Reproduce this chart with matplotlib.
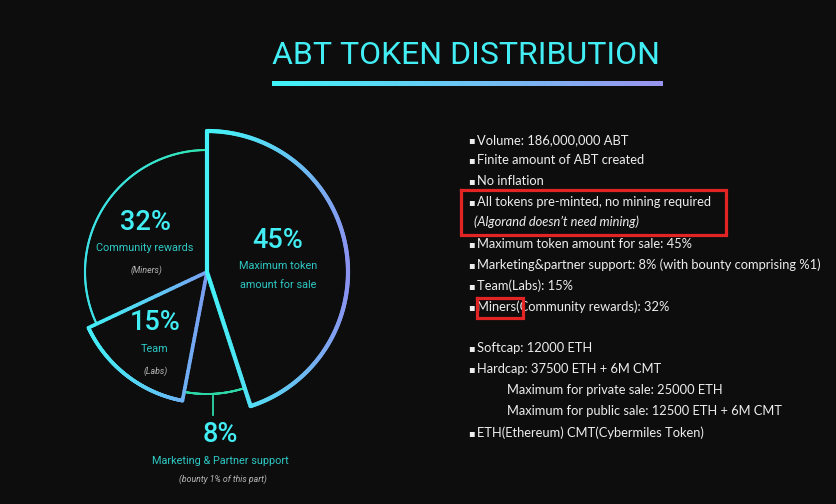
import numpy as np
import matplotlib
matplotlib.use('Agg')
import matplotlib.pyplot as plt
from matplotlib.collections import LineCollection
from matplotlib.colors import to_rgb

# ---------------- data ----------------
title = "ABT TOKEN DISTRIBUTION"
shares = [45, 8, 15, 32]
share_names = [["Maximum token", "amount for sale"],
               ["Marketing & Partner support"],
               ["Team"],
               ["Community rewards"]]
share_notes = ["", "(bounty 1% of this part)", "(Labs)", "(Miners)"]

bullet_lines = [
    "Volume: 186,000,000 ABT",
    "Finite amount of ABT created",
    "No inflation",
    "All tokens pre-minted, no mining required",
    "Maximum token amount for sale: 45%",
    "Marketing&partner support: 8% (with bounty comprising %1)",
    "Team(Labs): 15%",
    "Miners(Community rewards): 32%",
    "Softcap: 12000 ETH",
    "Hardcap: 37500 ETH + 6M CMT",
    "ETH(Ethereum) CMT(Cybermiles Token)",
]
sub_note = "(Algorand doesn\u2019t need mining)"
indented_lines = ["Maximum for private sale: 25000 ETH",
                  "Maximum for public sale: 12500 ETH + 6M CMT"]

# ---------------- style / layout ----------------
W, H = 837, 504
BG = '#0d0d0d'
CYAN = '#42eef4'
TEAL = '#2ec8c4'
radii = [141, 122, 131, 122]
lws = [3.0, 1.4, 2.6, 1.5]
grads = [('#45f0f6', '#8a94f0'), ('#2ed8a8', '#2ed8a8'),
         ('#45ecf6', '#7c9cf2'), ('#3ee2e6', '#2ee6ae')]
zorders = [5, 3, 4, 2]
center_px = (207, 272)

fig = plt.figure(figsize=(W / 100, H / 100), dpi=100, facecolor=BG)
ax = fig.add_axes([0, 0, 1, 1])
ax.set_facecolor(BG)


def Y(y):
    return H - y


wedges, _ = ax.pie(shares, startangle=90, counterclock=False,
                   center=(center_px[0], Y(center_px[1])), radius=radii[1],
                   colors=[BG] * len(shares), wedgeprops=dict(linewidth=0))
ax.set_xlim(0, W)
ax.set_ylim(0, H)
ax.set_aspect('equal')
ax.axis('off')


def outline(wd, r):
    cx, cy = wd.center
    t = np.radians(np.linspace(wd.theta1, wd.theta2, 200))
    arc = np.column_stack([cx + r * np.cos(t), cy + r * np.sin(t)])
    e1 = np.linspace([cx, cy], arc[0], 40)
    e2 = np.linspace(arc[-1], [cx, cy], 40)
    return np.vstack([e1, arc, e2])


for i, wd in enumerate(wedges):
    wd.set_radius(radii[i])
    pts = outline(wd, radii[i])
    segs = np.stack([pts[:-1], pts[1:]], axis=1)
    xm = segs.mean(axis=1)[:, 0]
    tt = (xm - xm.min()) / max(xm.max() - xm.min(), 1e-9)
    tt = np.clip(tt, 0, 1) ** 1.4
    c0, c1 = np.array(to_rgb(grads[i][0])), np.array(to_rgb(grads[i][1]))
    cols = c0[None, :] * (1 - tt[:, None]) + c1[None, :] * tt[:, None]
    lc = LineCollection(segs, colors=cols, linewidths=lws[i],
                        capstyle='round', joinstyle='round', zorder=zorders[i])
    ax.add_collection(lc)

# tick under the 8% arc
ax.plot([213, 213], [Y(396), Y(415)], color='#2ed8a8', lw=1.3, zorder=2)

# pie labels
label_pos = [(278, 240, [266, 285], None),
             (220, 435, [461], 479),
             (155, 323, [349], 371),
             (145, 222, [248], 270)]
for i, (x, yp, yn, ynote) in enumerate(label_pos):
    ax.text(x, Y(yp), f"{shares[i]}%", color=CYAN, fontsize=19.5,
            family='Roboto', fontweight='medium', ha='center', va='center',
            zorder=6)
    for name, yy in zip(share_names[i], yn):
        ax.text(x, Y(yy), name, color=TEAL, fontsize=7.8, family='Roboto',
                ha='center', va='center', zorder=6)
    if ynote is not None:
        ax.text(x + (3 if i == 1 else 1), Y(ynote), share_notes[i],
                color='#b8b8b8', fontsize=6.3, style='italic', family='Roboto',
                ha='center', va='center', zorder=6)

# title + gradient underline
ax.text(466.5, Y(56), title, color=CYAN, fontsize=23, family='Roboto',
        ha='center', va='center')
grad = np.linspace(0, 1, 256)[None, :, None]
g0, g1 = np.array(to_rgb('#40f4f8')), np.array(to_rgb('#9a94ef'))
img = g0 * (1 - grad) + g1 * grad
ax.imshow(img, extent=[272, 663, Y(86), Y(81)], aspect='auto', zorder=1)

# bullet list
TXT = '#eeeeee'
FS = 9.3
FONT = 'Lato'
bullet_y = [140, 160, 181, 202, 244, 265, 286, 307, 348, 369, 433]
for txt, yy in zip(bullet_lines, bullet_y):
    ax.text(471, Y(yy) - 0.5, "\u25aa", color=TXT, fontsize=7,
            family='DejaVu Sans', ha='center', va='center')
    ax.text(477, Y(yy), txt, color=TXT, fontsize=FS, family=FONT,
            ha='left', va='center')
ax.text(474, Y(222), sub_note, color=TXT, fontsize=FS, family=FONT,
        style='italic', ha='left', va='center')
for txt, yy in zip(indented_lines, [390, 411]):
    ax.text(507, Y(yy), txt, color=TXT, fontsize=FS, family=FONT,
            ha='left', va='center')

# red highlight boxes
RED = '#e32424'
for (x0, y0, x1, y1) in [(461, 190, 726, 235), (477, 298, 523, 318)]:
    ax.plot([x0, x1, x1, x0, x0], [Y(y0), Y(y0), Y(y1), Y(y1), Y(y0)],
            color=RED, lw=2.3, solid_joinstyle='miter', zorder=7)

fig.savefig('out.png', dpi=100, facecolor=BG)
